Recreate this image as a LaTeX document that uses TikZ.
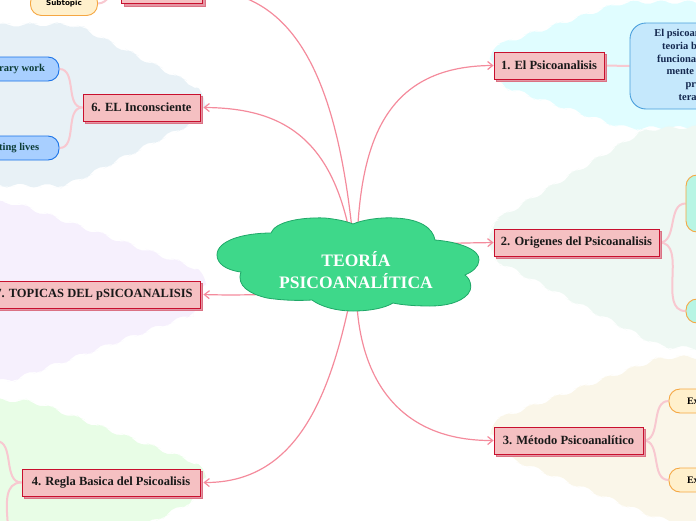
\documentclass[tikz,border=0pt]{standalone}
\usepackage{fontspec}
\setmainfont{Liberation Serif}
\newfontfamily\subtopicfont{DejaVu Sans}
\usetikzlibrary{arrows.meta,backgrounds,decorations.pathmorphing,shadows}
\definecolor{topicfill}{HTML}{F5C0C2}
\definecolor{topicline}{HTML}{C8102E}
\definecolor{topicshade}{HTML}{DB7284}
\definecolor{mainline}{HTML}{F48B9C}
\definecolor{subline}{HTML}{F8C8D0}
\definecolor{cloudfill}{HTML}{3ED88A}
\definecolor{cloudline}{HTML}{1FA868}
\definecolor{orangeline}{HTML}{F5A742}
\definecolor{orangefill}{HTML}{FFF0CC}
\definecolor{mintfill}{HTML}{B8F5E4}
\definecolor{blueline}{HTML}{1A73E8}
\definecolor{bluefill}{HTML}{A8CFFF}
\definecolor{bluetext}{HTML}{0B3B35}
\definecolor{skyline}{HTML}{4A9FDC}
\definecolor{skyfill}{HTML}{C5E8FC}
\definecolor{skytext}{HTML}{14284F}
\definecolor{regionone}{HTML}{E0FDFF}
\definecolor{regiontwo}{HTML}{EEF8F3}
\definecolor{regionthree}{HTML}{FAF6E9}
\definecolor{regionfour}{HTML}{E8FDE6}
\definecolor{regionsix}{HTML}{E8F1F6}
\definecolor{regionseven}{HTML}{F6F0FD}
\begin{document}
\begin{tikzpicture}[x=1pt,y=-1pt,
		topicbox/.style={draw=topicline,fill=topicfill,line width=0.9pt,minimum height=27pt,inner sep=0pt,text=black!90,font=\fontsize{12.5}{14}\selectfont\bfseries,
			copy shadow={shadow xshift=2.5pt,shadow yshift=-2.5pt,draw=topicshade,fill=topicshade!75}},
		subbox/.style={draw=orangeline,fill=#1,line width=0.9pt,rounded corners=11pt,inner sep=0pt},
		bluebox/.style={draw=blueline,fill=bluefill,line width=0.9pt,rounded corners=11pt,minimum width=92pt,minimum height=24pt,inner sep=0pt,text=bluetext,font=\fontsize{10.5}{12}\selectfont\bfseries},
		exbox/.style={subbox=orangefill,minimum width=70pt,minimum height=24pt,text width=34pt,font=\fontsize{10}{12}\selectfont\bfseries,align=left},
		mainlink/.style={draw=mainline,line width=1.2pt,-{Straight Barb[length=5pt,width=8pt]}},
		sublink/.style={draw=subline,line width=2pt},
		region/.style={fill=#1,rounded corners=8pt,decorate,decoration={snake,segment length=27pt,amplitude=1.4pt}}]
	\useasboundingbox (0,0) rectangle (696,520);
	
	\fill [cloudfill,draw=cloudline,line width=0.8pt] (217,255) .. controls (217,240) and (245,233) .. (271,233)
		.. controls (275,222) and (300,217) .. (325,218) .. controls (335,219) and (346,221) .. (353,224)
		.. controls (362,220) and (380,217) .. (395,218) .. controls (420,219) and (433,228) .. (435,240)
		.. controls (460,242) and (480,250) .. (479,260) .. controls (479,267) and (472,272) .. (465,275)
		.. controls (472,280) and (472,290) .. (468,294) .. controls (460,303) and (445,306) .. (430,306)
		.. controls (415,306) and (402,305) .. (393,303) .. controls (385,308) and (370,311) .. (353,311)
		.. controls (335,311) and (320,306) .. (312,300) .. controls (295,301) and (280,300) .. (267,298)
		.. controls (250,294) and (236,286) .. (241,272) .. controls (225,270) and (217,263) .. (217,255);
	\node [text=white,align=center,font=\fontsize{17.5}{22}\selectfont\bfseries] (central) at (356,270) {TEORÍA\\PSICOANALÍTICA};
	
	\node [topicbox,minimum width=110pt] (topicone) at (549,65.5) {1. El Psicoanalisis};
	\node [topicbox,minimum width=165pt] (topictwo) at (576.5,242.5) {2. Origenes del Psicoanalisis};
	\node [topicbox,minimum width=149pt] (topicthree) at (568.5,440.5) {3. Método Psicoanalítico};
	\node [topicbox,minimum width=178pt] (topicfour) at (111,482.5) {4. Regla Basica del Psicoalisis};
	\node [topicbox,minimum width=81pt] (topicfive) at (162,-10) {};
	\node [topicbox,minimum width=117pt] (topicsix) at (141.5,107.5) {6. EL Inconsciente};
	\node [topicbox,minimum width=212pt] (topicseven) at (94,294.5) {7. TOPICAS DEL pSICOANALISIS};
	
	\node [subbox=orangefill,minimum width=67pt,minimum height=24pt,font=\subtopicfont\bfseries\fontsize{7.2}{8}\selectfont] (subtopic) at (64,3.5) {Subtopic};
	\node [bluebox] (litwork) at (13,69) {Literary work};
	\node [bluebox] (actlives) at (13,148) {Acting lives};
	\node [draw=skyline,fill=skyfill,line width=0.9pt,rounded corners=16pt,minimum width=148pt,minimum height=86pt,inner sep=0pt,align=center,text=skytext,font=\fontsize{10.5}{12.7}\selectfont\bfseries] (definition) at (704,66) {El psicoanalisis es una\\teoria basada en el\\funcionamiento de la\\mente humana y\\practica\\terapeutica};
	\node [subbox=mintfill,minimum width=60pt,minimum height=57pt] (origintop) at (716,203.5) {};
	\node [subbox=mintfill,minimum width=60pt,minimum height=24pt] (originlow) at (716,311) {};
	\node [exbox] (methodtop) at (704,401) {Ex};
	\node [exbox] (methodlow) at (704,480) {Ex};
	\coordinate (ruleup) at (-4,441);
	\coordinate (ruledown) at (-6,565);
	
	\begin{scope}[on background layer]
		\path [region=regionone] (490,48) -- (615,5) -- (720,5) -- (720,127) -- (617,128) -- (490,84) -- cycle;
		\path [region=regiontwo] (490,224) -- (640,133) -- (720,130) -- (720,355) -- (660,353) -- (490,264) -- cycle;
		\path [region=regionthree] (490,422) -- (655,360) -- (720,360) -- (720,540) -- (650,525) -- (490,460) -- cycle;
		\path [region=regionsix] (206,92) -- (80,27) -- (-20,28) -- (-20,190) -- (70,191) -- (204,124) -- cycle;
		\path [region=regionseven] (206,272) -- (20,205) -- (-20,203) -- (-20,385) -- (20,384) -- (206,316) -- cycle;
		\path [region=regionfour] (206,467) -- (40,404) -- (-20,402) -- (-20,540) -- (130,540) -- (206,502) -- cycle;
		
		\draw [mainlink] (central) .. controls (360,150) and (380,66) .. (topicone.west);
		\draw [mainlink] (central) .. controls (420,243) and (470,243) .. (topictwo.west);
		\draw [mainlink] (central) .. controls (358,380) and (400,441) .. (topicthree.west);
		\draw [mainlink] (central) .. controls (330,400) and (295,483) .. ([xshift=3pt]topicfour.east);
		\draw [mainlink] (central) .. controls (340,100) and (305,-5) .. ([xshift=3pt]topicfive.east);
		\draw [mainlink] (central) .. controls (335,140) and (285,108) .. ([xshift=3pt]topicsix.east);
		\draw [mainlink] (central) .. controls (300,293) and (250,296) .. ([xshift=3pt]topicseven.east);
		
		\draw [sublink] (topicone.east) -- (definition.west);
		\draw [sublink] (topictwo.east) to [out=0,in=180] (origintop.west);
		\draw [sublink] (topictwo.east) to [out=0,in=180] (originlow.west);
		\draw [sublink] (topicthree.east) to [out=0,in=180] (methodtop.west);
		\draw [sublink] (topicthree.east) to [out=0,in=180] (methodlow.west);
		\draw [sublink] (topicfour.west) to [out=180,in=0] (ruleup);
		\draw [sublink] (topicfour.west) to [out=180,in=0] (ruledown);
		\draw [sublink] (topicfive.west) to [out=180,in=0] (subtopic.east);
		\draw [sublink] (topicsix.west) to [out=180,in=0] (litwork.east);
		\draw [sublink] (topicsix.west) to [out=180,in=0] (actlives.east);
	\end{scope}
\end{tikzpicture}
\end{document}
